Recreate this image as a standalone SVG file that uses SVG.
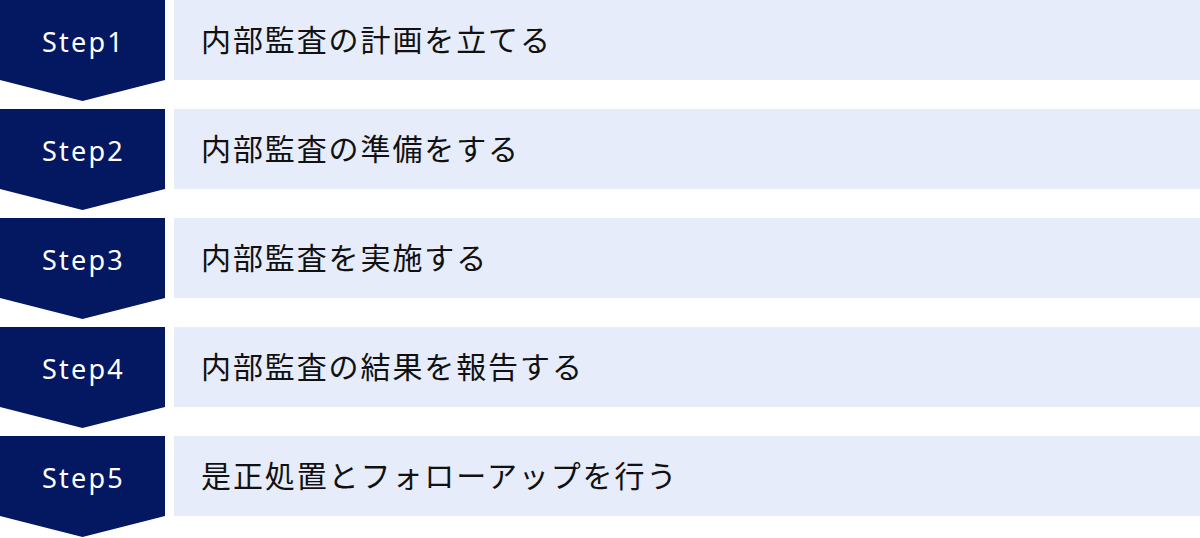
<svg xmlns="http://www.w3.org/2000/svg" width="1200" height="538" viewBox="0 0 1200 538">
<style>
.step{fill:#041761}
.bar{fill:#E6ECF9}
.lbl{font-family:"Noto Sans","Noto Sans CJK JP",sans-serif;font-size:27px;fill:#ffffff;letter-spacing:2.2px}
.txt{font-family:"Noto Sans CJK JP",sans-serif;font-size:30px;fill:#111111;letter-spacing:1.9px}
</style>
<defs>
<path id="chev" d="M0 0H165V80L82.5 101L0 80Z"/>
</defs>
<rect width="1200" height="538" fill="#ffffff"/>
<g id="step1">
<use href="#chev" class="step"/>
<rect class="bar" x="174" y="0" width="1026" height="80"/>
<text class="lbl" x="83.5" y="51.5" text-anchor="middle">Step1</text>
<text class="txt" x="201" y="50.5">内部監査の計画を立てる</text>
</g>
<g id="step2" transform="translate(0,109)">
<use href="#chev" class="step"/>
<rect class="bar" x="174" y="0" width="1026" height="80"/>
<text class="lbl" x="83.5" y="51.5" text-anchor="middle">Step2</text>
<text class="txt" x="201" y="50.5">内部監査の準備をする</text>
</g>
<g id="step3" transform="translate(0,218)">
<use href="#chev" class="step"/>
<rect class="bar" x="174" y="0" width="1026" height="80"/>
<text class="lbl" x="83.5" y="51.5" text-anchor="middle">Step3</text>
<text class="txt" x="201" y="50.5">内部監査を実施する</text>
</g>
<g id="step4" transform="translate(0,327)">
<use href="#chev" class="step"/>
<rect class="bar" x="174" y="0" width="1026" height="80"/>
<text class="lbl" x="83.5" y="51.5" text-anchor="middle">Step4</text>
<text class="txt" x="201" y="50.5">内部監査の結果を報告する</text>
</g>
<g id="step5" transform="translate(0,436)">
<use href="#chev" class="step"/>
<rect class="bar" x="174" y="0" width="1026" height="80"/>
<text class="lbl" x="83.5" y="51.5" text-anchor="middle">Step5</text>
<text class="txt" x="201" y="50.5">是正処置とフォローアップを行う</text>
</g>
<g id="connectors"/>
</svg>
